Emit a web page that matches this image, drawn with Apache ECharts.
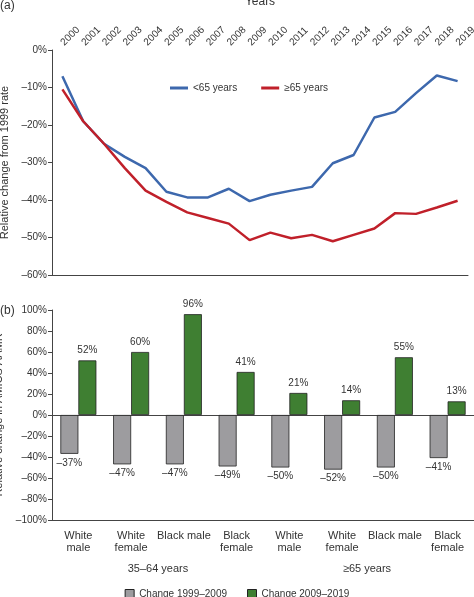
<!DOCTYPE html>
<html><head><meta charset="utf-8">
<script src="https://cdn.jsdelivr.net/npm/echarts@6/dist/echarts.min.js"></script>
<style>html,body{margin:0;padding:0;background:#fff}#c{width:474px;height:597px}</style>
</head><body><div id="c"></div>
<script>
const years = ['2000','2001','2002','2003','2004','2005','2006','2007','2008','2009','2010','2011','2012','2013','2014','2015','2016','2017','2018','2019'];
const under65 = [-7,-19,-25,-28.5,-31.5,-37.8,-39.3,-39.3,-37,-40.3,-38.6,-37.5,-36.5,-30.2,-28,-18,-16.5,-11.5,-6.8,-8.3];
const over65 = [-10.5,-19,-25,-31.5,-37.5,-40.5,-43.3,-44.8,-46.3,-50.7,-48.7,-50.2,-49.3,-51,-49.3,-47.6,-43.5,-43.7,-42,-40.2];
const groups = ['White\nmale','White\nfemale','Black male','Black\nfemale','White\nmale','White\nfemale','Black male','Black\nfemale'];
const change1 = [-37,-47,-47,-49,-50,-52,-50,-41];
const change2 = [52,60,96,41,21,14,55,13];
const ageGroups = ['35–64 years','≥65 years'];
const fmt = v => (v<0?'–':'')+Math.abs(v)+'%';
const F = 'Liberation Sans, Arial, sans-serif';
const ax = {color:'#333',fontSize:10,fontFamily:F};
const chart = echarts.init(document.getElementById('c'));
chart.setOption({
  animation:false,
  textStyle:{fontFamily:F},
  grid:[{left:52,right:6,top:50,height:225,containLabel:false,outerBoundsMode:'none'},{left:52,right:0,top:310,height:210,containLabel:false,outerBoundsMode:'none'}],
  legend:[{data:['<65 years','≥65 years'],left:165,top:78,itemWidth:18,itemHeight:3,itemGap:24,icon:'rect',textStyle:{fontSize:10,color:'#333'}},
    {data:['Change 1999–2009','Change 2009–2019'],left:'center',top:584,itemWidth:9,itemHeight:9,itemGap:20,icon:'rect',textStyle:{fontSize:10,color:'#333'},itemStyle:{borderColor:'#222',borderWidth:1}}],
  xAxis:[
    {type:'category',data:years,gridIndex:0,position:'top',axisLine:{show:false},axisTick:{show:false},axisLabel:{interval:0,rotate:45,fontSize:10,color:'#333',margin:6},name:'Years',nameLocation:'middle',nameGap:42,nameTextStyle:{fontSize:12,color:'#333'}},
    {type:'category',data:years,gridIndex:0,position:'bottom',axisLine:{onZero:false,lineStyle:{color:'#444'}},axisTick:{show:false},axisLabel:{show:false}},
    {type:'category',data:groups,gridIndex:1,position:'bottom',axisLine:{onZero:false,lineStyle:{color:'#444'}},axisTick:{show:false},axisLabel:{interval:0,fontSize:11,color:'#333',margin:10,lineHeight:12}},
    {type:'category',data:groups,gridIndex:1,position:'top',axisLine:{onZero:true,lineStyle:{color:'#444'}},axisTick:{show:false},axisLabel:{show:false}}
  ],
  yAxis:[
    {type:'value',gridIndex:0,min:-60,max:0,interval:10,axisLine:{show:true,lineStyle:{color:'#444'}},axisTick:{show:true,inside:false,length:4},splitLine:{show:false},axisLabel:Object.assign({formatter:fmt,margin:5},ax),name:'Relative change from 1999 rate',nameLocation:'middle',nameGap:38,nameTextStyle:{fontSize:11,color:'#333'}},
    {type:'value',gridIndex:1,min:-100,max:100,interval:20,axisLine:{show:true,lineStyle:{color:'#444'}},axisTick:{show:true,length:4},splitLine:{show:false},axisLabel:Object.assign({formatter:fmt,margin:5},ax),name:'Relative change in AMICS AAMR',nameLocation:'middle',nameGap:40,nameTextStyle:{fontSize:11,color:'#333'}}
  ],
  series:[
    {name:'<65 years',type:'line',xAxisIndex:0,yAxisIndex:0,data:under65,symbol:'none',lineStyle:{color:'#3d68ad',width:2.5},itemStyle:{color:'#3d68ad'}},
    {name:'≥65 years',type:'line',xAxisIndex:0,yAxisIndex:0,data:over65,symbol:'none',lineStyle:{color:'#c0202a',width:2.5},itemStyle:{color:'#c0202a'}},
    {name:'Change 1999–2009',type:'bar',xAxisIndex:2,yAxisIndex:1,data:change1,barWidth:18,barGap:'0%',itemStyle:{color:'#9d9c9f',borderColor:'#222',borderWidth:0.8},label:{show:true,position:'bottom',formatter:p=>fmt(p.value),fontSize:10,color:'#333',distance:4}},
    {name:'Change 2009–2019',type:'bar',xAxisIndex:2,yAxisIndex:1,data:change2,barWidth:18,itemStyle:{color:'#3f7f32',borderColor:'#222',borderWidth:0.8},label:{show:true,position:'top',formatter:p=>fmt(p.value),fontSize:10,color:'#333',distance:5}}
  ],
  graphic:[
    {type:'text',left:0,top:0,style:{text:'(a)',fontSize:12,fill:'#333',fontFamily:F}},
    {type:'text',left:0,top:305,style:{text:'(b)',fontSize:12,fill:'#333',fontFamily:F}},
    {type:'text',x:158,y:563,style:{text:ageGroups[0],fontSize:11,fill:'#333',fontFamily:F,align:'center'}},
    {type:'text',x:367,y:563,style:{text:ageGroups[1],fontSize:11,fill:'#333',fontFamily:F,align:'center'}}
  ]
});
</script></body></html>
